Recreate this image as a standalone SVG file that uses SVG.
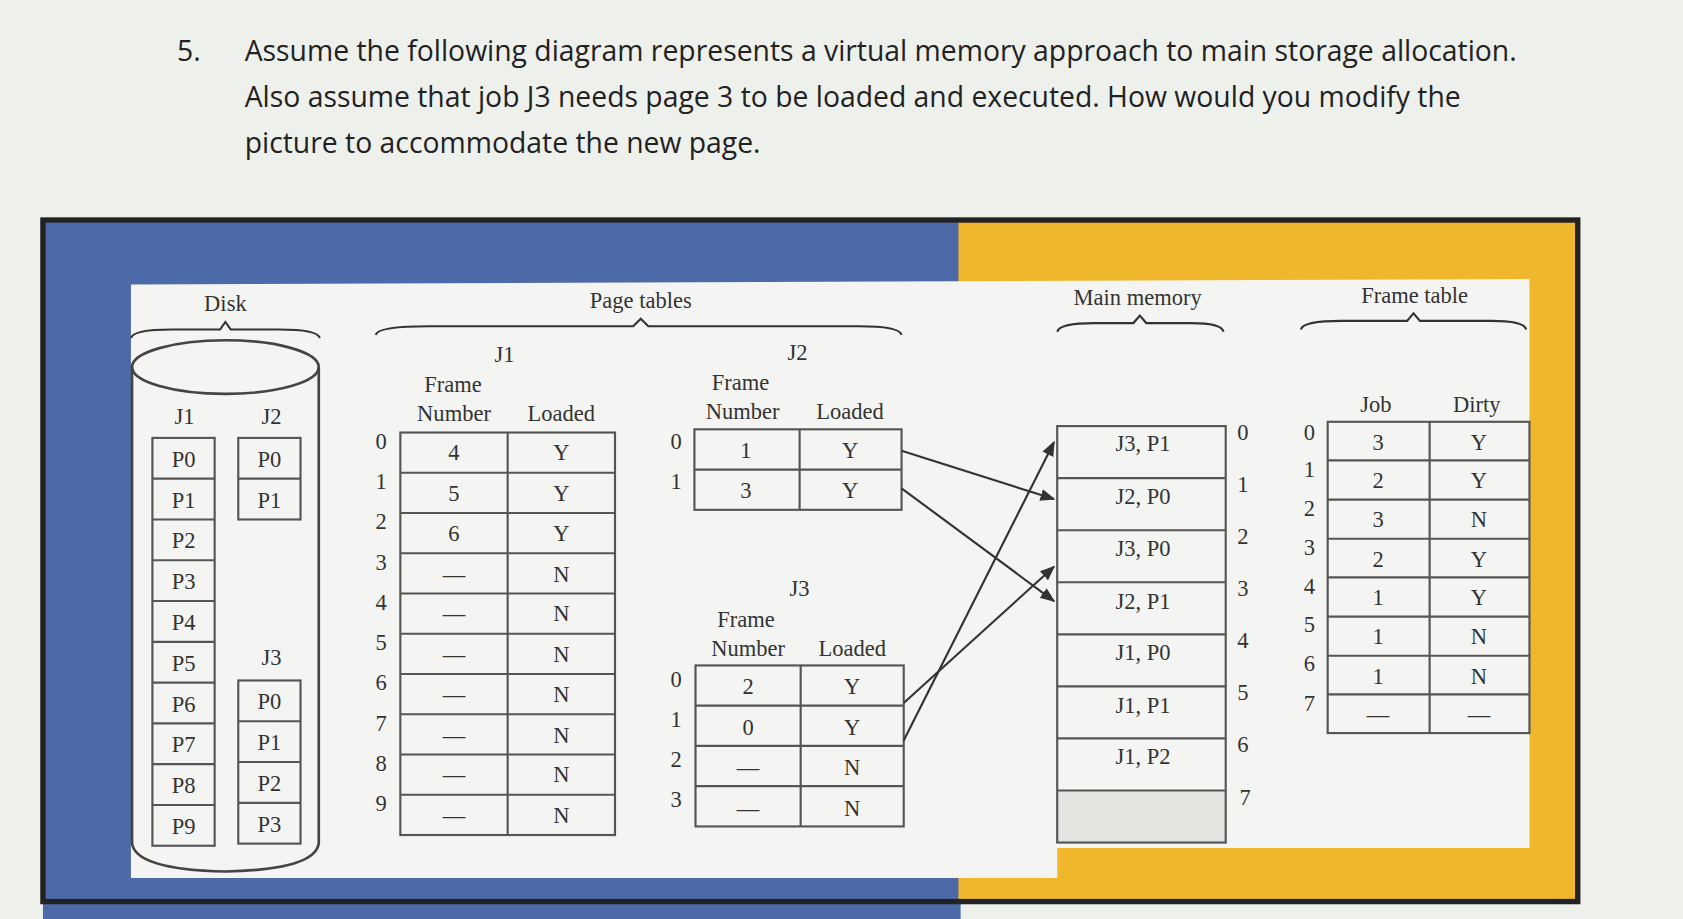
<svg xmlns="http://www.w3.org/2000/svg" width="1683" height="919" viewBox="0 0 1683 919">
<defs>
<style>
.t{font-family:"Liberation Serif",serif;font-size:21px;fill:#333;text-anchor:middle}
.ti{font-family:"Open Sans","Liberation Sans",sans-serif;font-size:26.4px;fill:#222}
.c{fill:none;stroke:#444;stroke-width:2.5}
.b{fill:none;stroke:#555;stroke-width:2}
.ln{stroke:#333;stroke-width:2;fill:none}
</style>
<marker id="ah" viewBox="0 0 10 10" refX="9" refY="5" markerWidth="7" markerHeight="7" orient="auto"><path d="M0,1L10,5L0,9z" fill="#333"/></marker>
</defs>
<rect width="1683" height="919" fill="#eef0ec"/>
<g transform="scale(1.0733)">
<text class="ti" x="165" y="57">5.</text>
<text class="ti" x="228" y="57">Assume the following diagram represents a virtual memory approach to main storage allocation.</text>
<text class="ti" x="228" y="100">Also assume that job J3 needs page 3 to be loaded and executed.  How would you modify the</text>
<text class="ti" x="228" y="143">picture to accommodate the new page.</text>
<rect x="40" y="205" width="855" height="660" fill="#4d6aa8"/>
<rect x="893" y="205" width="577" height="635" fill="#f0b72c"/>
<rect x="40" y="205" width="1430" height="635" fill="none" stroke="#222" stroke-width="5"/>
<path d="M122,265 L1425,260 L1425,790 L985,790 L985,818 L122,818Z" fill="#f4f5f2"/>
<g id="headers">
<text class="t" x="210" y="290">Disk</text>
<path class="ln" d="M122,315 Q124,307 160,307 L205,307 L210,300 L215,307 L260,307 Q296,307 298,315"/>
<text class="t" x="597" y="287">Page tables</text>
<path class="ln" d="M350,312 Q352,304 400,304 L590,304 L597,297 L604,304 L800,304 Q838,304 840,312"/>
<text class="t" x="1060" y="284">Main memory</text>
<path class="ln" d="M985,309 Q987,301 1020,301 L1056,301 L1062,294 L1068,301 L1110,301 Q1138,301 1140,309"/>
<text class="t" x="1318" y="282">Frame table</text>
<path class="ln" d="M1212,307 Q1214,299 1250,299 L1311,299 L1317,292 L1323,299 L1390,299 Q1420,299 1422,307"/>
</g>
<g id="disk">
<ellipse class="c" cx="210" cy="342" rx="87" ry="25"/>
<path class="c" d="M123,342 L123,785 Q125,810 210,812 Q295,810 297,785 L297,342"/>
<text class="t" x="172" y="395">J1</text><text class="t" x="253" y="395">J2</text><text class="t" x="253" y="620">J3</text>
<g class="b">
<rect x="142" y="408" width="58" height="380"/>
<path d="M142,446H200M142,484H200M142,522H200M142,560H200M142,598H200M142,636H200M142,674H200M142,712H200M142,750H200"/>
<rect x="222" y="408" width="58" height="76"/><path d="M222,446H280"/>
<rect x="222" y="634" width="58" height="152"/><path d="M222,672H280M222,710H280M222,748H280"/>
</g>
<text class="t" x="171" y="435">P0</text><text class="t" x="171" y="473">P1</text><text class="t" x="171" y="511">P2</text><text class="t" x="171" y="549">P3</text><text class="t" x="171" y="587">P4</text><text class="t" x="171" y="625">P5</text><text class="t" x="171" y="663">P6</text><text class="t" x="171" y="701">P7</text><text class="t" x="171" y="739">P8</text><text class="t" x="171" y="777">P9</text>
<text class="t" x="251" y="435">P0</text><text class="t" x="251" y="473">P1</text>
<text class="t" x="251" y="661">P0</text><text class="t" x="251" y="699">P1</text><text class="t" x="251" y="737">P2</text><text class="t" x="251" y="775">P3</text>
</g>
<g id="pt-j1">
<text class="t" x="470" y="337">J1</text><text class="t" x="422" y="365">Frame</text><text class="t" x="423" y="392">Number</text><text class="t" x="523" y="392">Loaded</text>
<g class="b"><rect x="373" y="403" width="200" height="375"/>
<path d="M473,403V778M373,440.5H573M373,478H573M373,515.5H573M373,553H573M373,590.5H573M373,628H573M373,665.5H573M373,703H573M373,740.5H573"/></g>
<g class="t"><text x="355" y="418">0</text><text x="355" y="456">1</text><text x="355" y="493">2</text><text x="355" y="531">3</text><text x="355" y="568">4</text><text x="355" y="606">5</text><text x="355" y="643">6</text><text x="355" y="681">7</text><text x="355" y="718">8</text><text x="355" y="756">9</text>
<text x="423" y="429">4</text><text x="423" y="467">5</text><text x="423" y="504">6</text><text x="423" y="542">—</text><text x="423" y="579">—</text><text x="423" y="617">—</text><text x="423" y="654">—</text><text x="423" y="692">—</text><text x="423" y="729">—</text><text x="423" y="767">—</text>
<text x="523" y="429">Y</text><text x="523" y="467">Y</text><text x="523" y="504">Y</text><text x="523" y="542">N</text><text x="523" y="579">N</text><text x="523" y="617">N</text><text x="523" y="654">N</text><text x="523" y="692">N</text><text x="523" y="729">N</text><text x="523" y="767">N</text></g>
</g>
<g id="pt-j2">
<text class="t" x="743" y="335">J2</text><text class="t" x="690" y="363">Frame</text><text class="t" x="692" y="390">Number</text><text class="t" x="792" y="390">Loaded</text>
<g class="b"><rect x="647" y="400" width="193" height="75"/><path d="M745,400V475M647,437.5H840"/></g>
<g class="t"><text x="630" y="418">0</text><text x="630" y="456">1</text><text x="695" y="427">1</text><text x="695" y="464">3</text><text x="792" y="427">Y</text><text x="792" y="464">Y</text></g>
</g>
<g id="pt-j3">
<text class="t" x="745" y="555">J3</text><text class="t" x="695" y="584">Frame</text><text class="t" x="697" y="611">Number</text><text class="t" x="794" y="611">Loaded</text>
<g class="b"><rect x="648" y="620" width="194" height="150"/><path d="M746,620V770M648,657.5H842M648,695H842M648,732.5H842"/></g>
<g class="t"><text x="630" y="640">0</text><text x="630" y="677">1</text><text x="630" y="715">2</text><text x="630" y="752">3</text>
<text x="697" y="647">2</text><text x="697" y="685">0</text><text x="697" y="722">—</text><text x="697" y="760">—</text>
<text x="794" y="647">Y</text><text x="794" y="685">Y</text><text x="794" y="722">N</text><text x="794" y="760">N</text></g>
</g>
<g id="main-memory">
<rect x="985" y="737" width="157" height="48" fill="#e2e4e0"/>
<g class="b"><rect x="985" y="397" width="157" height="388"/>
<path d="M985,445.5H1142M985,494H1142M985,542.5H1142M985,591H1142M985,639.5H1142M985,688H1142M985,736.5H1142"/></g>
<g class="t"><text x="1065" y="420">J3, P1</text><text x="1065" y="470">J2, P0</text><text x="1065" y="518">J3, P0</text><text x="1065" y="567">J2, P1</text><text x="1065" y="615">J1, P0</text><text x="1065" y="664">J1, P1</text><text x="1065" y="712">J1, P2</text>
<text x="1158" y="410">0</text><text x="1158" y="458">1</text><text x="1158" y="507">2</text><text x="1158" y="555">3</text><text x="1158" y="604">4</text><text x="1158" y="652">5</text><text x="1158" y="701">6</text><text x="1160" y="750">7</text></g>
</g>
<g id="frame-table">
<text class="t" x="1282" y="384">Job</text><text class="t" x="1376" y="384">Dirty</text>
<g class="b"><rect x="1237" y="393" width="188" height="290"/>
<path d="M1332,393V683M1237,429H1425M1237,465.5H1425M1237,502H1425M1237,538H1425M1237,574.5H1425M1237,611H1425M1237,647H1425"/></g>
<g class="t"><text x="1220" y="410">0</text><text x="1220" y="444">1</text><text x="1220" y="481">2</text><text x="1220" y="517">3</text><text x="1220" y="553">4</text><text x="1220" y="589">5</text><text x="1220" y="625">6</text><text x="1220" y="662">7</text>
<text x="1284" y="419">3</text><text x="1284" y="455">2</text><text x="1284" y="491">3</text><text x="1284" y="528">2</text><text x="1284" y="564">1</text><text x="1284" y="600">1</text><text x="1284" y="637">1</text><text x="1284" y="673">—</text>
<text x="1378" y="419">Y</text><text x="1378" y="455">Y</text><text x="1378" y="491">N</text><text x="1378" y="528">Y</text><text x="1378" y="564">Y</text><text x="1378" y="600">N</text><text x="1378" y="637">N</text><text x="1378" y="673">—</text></g>
</g>
<g id="connectors" class="ln" marker-end="url(#ah)">
<path d="M840,420L982,465"/>
<path d="M840,455L982,560"/>
<path d="M842,655L982,528"/>
<path d="M842,690L982,412"/>
</g>
</g>
</svg>
